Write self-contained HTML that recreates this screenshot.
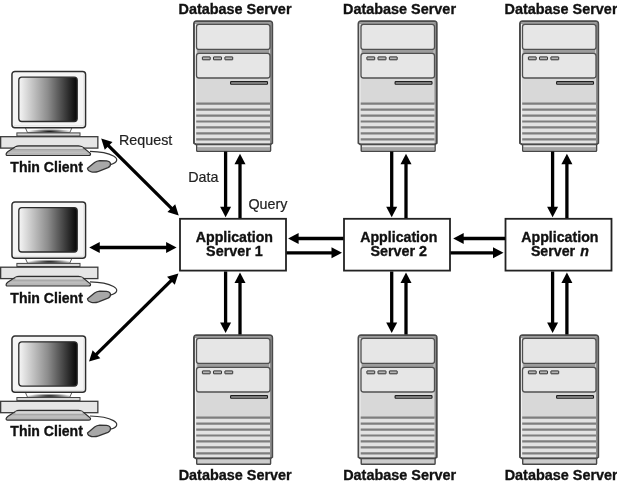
<!DOCTYPE html>
<html><head><meta charset="utf-8"><style>
html,body{margin:0;padding:0;background:#fff;width:617px;height:482px;overflow:hidden}
svg{display:block;filter:blur(0.35px)}
text{will-change:transform}
</style></head><body>
<svg width="617" height="482" viewBox="0 0 617 482"><defs>
<linearGradient id="scr" x1="0" y1="0" x2="1" y2="0">
<stop offset="0" stop-color="#f6f6f6"/><stop offset="0.5" stop-color="#8c8c8c"/><stop offset="1" stop-color="#050505"/>
</linearGradient>
<radialGradient id="neck" cx="0.52" cy="0.75" r="0.55">
<stop offset="0" stop-color="#111"/><stop offset="0.45" stop-color="#8a8a8a"/><stop offset="0.85" stop-color="#fafafa"/><stop offset="1" stop-color="#fff"/>
</radialGradient>
</defs>
<g transform="translate(193,20)"><rect x="3.7" y="122.8" width="73.9" height="8.4" rx="0.8" fill="#bcbcbc" stroke="#484848" stroke-width="1.4"/><rect x="4.5" y="124.2" width="72.3" height="2.8" fill="#e6e6e6"/><rect x="4.5" y="127.4" width="72.3" height="3.1" fill="#a6a6a6"/><path d="M0.95,123 L0.95,4 Q0.95,1.3 3.6,1.3 L76.6,1.3 Q79.25,1.3 79.25,4 L79.25,123 L77.5,124.2 L2.7,124.2 Z" fill="#d8d8d8" stroke="#4a4a4a" stroke-width="1.9"/><rect x="1.9" y="2.2" width="76.4" height="2" fill="#9a9a9a"/><line x1="77.7" y1="3" x2="77.7" y2="123" stroke="#8c8c8c" stroke-width="1.4"/><line x1="2.5" y1="4" x2="2.5" y2="123" stroke="#f2f2f2" stroke-width="1"/><rect x="3" y="83.7" width="74" height="39.5" fill="#e2e2e2"/><rect x="4.2" y="30" width="72" height="3.2" fill="#9c9c9c"/><rect x="3.5" y="4.4" width="73.5" height="25" rx="2.5" fill="#e6e6e6" stroke="#505050" stroke-width="1.3"/><rect x="3.5" y="33.4" width="73.5" height="24.6" rx="2.5" fill="#e6e6e6" stroke="#505050" stroke-width="1.3"/><rect x="9.4" y="36.9" width="7.8" height="2.9" rx="0.3" fill="#b4b4b4" stroke="#333" stroke-width="1"/><rect x="20.5" y="36.9" width="8.0" height="2.9" rx="0.3" fill="#b4b4b4" stroke="#333" stroke-width="1"/><rect x="31.9" y="36.9" width="7.8" height="2.9" rx="0.3" fill="#b4b4b4" stroke="#333" stroke-width="1"/><rect x="37.6" y="61.6" width="36.9" height="2.7" rx="0.6" fill="#9a9a9a" stroke="#1e1e1e" stroke-width="1.1"/><line x1="3.2" y1="83.70" x2="77" y2="83.70" stroke="#7e7e7e" stroke-width="2.2"/><line x1="3.2" y1="89.63" x2="77" y2="89.63" stroke="#7e7e7e" stroke-width="2.2"/><line x1="3.2" y1="95.56" x2="77" y2="95.56" stroke="#7e7e7e" stroke-width="2.2"/><line x1="3.2" y1="101.49" x2="77" y2="101.49" stroke="#7e7e7e" stroke-width="2.2"/><line x1="3.2" y1="107.42" x2="77" y2="107.42" stroke="#7e7e7e" stroke-width="2.2"/><line x1="3.2" y1="113.35" x2="77" y2="113.35" stroke="#7e7e7e" stroke-width="2.2"/><line x1="3.2" y1="119.28" x2="77" y2="119.28" stroke="#7e7e7e" stroke-width="2.2"/></g>
<g transform="translate(193,334)"><rect x="3.7" y="122.8" width="73.9" height="7.5" rx="0.8" fill="#cdcdcd" stroke="#484848" stroke-width="1.4"/><path d="M0.95,123 L0.95,4 Q0.95,1.3 3.6,1.3 L76.6,1.3 Q79.25,1.3 79.25,4 L79.25,123 L77.5,124.2 L2.7,124.2 Z" fill="#d8d8d8" stroke="#4a4a4a" stroke-width="1.9"/><rect x="1.9" y="2.2" width="76.4" height="2" fill="#9a9a9a"/><line x1="77.7" y1="3" x2="77.7" y2="123" stroke="#8c8c8c" stroke-width="1.4"/><line x1="2.5" y1="4" x2="2.5" y2="123" stroke="#f2f2f2" stroke-width="1"/><rect x="3" y="83.7" width="74" height="39.5" fill="#e2e2e2"/><rect x="4.2" y="30" width="72" height="3.2" fill="#9c9c9c"/><rect x="3.5" y="4.4" width="73.5" height="25" rx="2.5" fill="#e6e6e6" stroke="#505050" stroke-width="1.3"/><rect x="3.5" y="33.4" width="73.5" height="24.6" rx="2.5" fill="#e6e6e6" stroke="#505050" stroke-width="1.3"/><rect x="9.4" y="36.9" width="7.8" height="2.9" rx="0.3" fill="#b4b4b4" stroke="#333" stroke-width="1"/><rect x="20.5" y="36.9" width="8.0" height="2.9" rx="0.3" fill="#b4b4b4" stroke="#333" stroke-width="1"/><rect x="31.9" y="36.9" width="7.8" height="2.9" rx="0.3" fill="#b4b4b4" stroke="#333" stroke-width="1"/><rect x="37.6" y="61.6" width="36.9" height="2.7" rx="0.6" fill="#9a9a9a" stroke="#1e1e1e" stroke-width="1.1"/><line x1="3.2" y1="83.70" x2="77" y2="83.70" stroke="#7e7e7e" stroke-width="2.2"/><line x1="3.2" y1="89.63" x2="77" y2="89.63" stroke="#7e7e7e" stroke-width="2.2"/><line x1="3.2" y1="95.56" x2="77" y2="95.56" stroke="#7e7e7e" stroke-width="2.2"/><line x1="3.2" y1="101.49" x2="77" y2="101.49" stroke="#7e7e7e" stroke-width="2.2"/><line x1="3.2" y1="107.42" x2="77" y2="107.42" stroke="#7e7e7e" stroke-width="2.2"/><line x1="3.2" y1="113.35" x2="77" y2="113.35" stroke="#7e7e7e" stroke-width="2.2"/><line x1="3.2" y1="119.28" x2="77" y2="119.28" stroke="#7e7e7e" stroke-width="2.2"/></g>
<g transform="translate(357.5,20)"><rect x="3.7" y="122.8" width="73.9" height="8.4" rx="0.8" fill="#bcbcbc" stroke="#484848" stroke-width="1.4"/><rect x="4.5" y="124.2" width="72.3" height="2.8" fill="#e6e6e6"/><rect x="4.5" y="127.4" width="72.3" height="3.1" fill="#a6a6a6"/><path d="M0.95,123 L0.95,4 Q0.95,1.3 3.6,1.3 L76.6,1.3 Q79.25,1.3 79.25,4 L79.25,123 L77.5,124.2 L2.7,124.2 Z" fill="#d8d8d8" stroke="#4a4a4a" stroke-width="1.9"/><rect x="1.9" y="2.2" width="76.4" height="2" fill="#9a9a9a"/><line x1="77.7" y1="3" x2="77.7" y2="123" stroke="#8c8c8c" stroke-width="1.4"/><line x1="2.5" y1="4" x2="2.5" y2="123" stroke="#f2f2f2" stroke-width="1"/><rect x="3" y="83.7" width="74" height="39.5" fill="#e2e2e2"/><rect x="4.2" y="30" width="72" height="3.2" fill="#9c9c9c"/><rect x="3.5" y="4.4" width="73.5" height="25" rx="2.5" fill="#e6e6e6" stroke="#505050" stroke-width="1.3"/><rect x="3.5" y="33.4" width="73.5" height="24.6" rx="2.5" fill="#e6e6e6" stroke="#505050" stroke-width="1.3"/><rect x="9.4" y="36.9" width="7.8" height="2.9" rx="0.3" fill="#b4b4b4" stroke="#333" stroke-width="1"/><rect x="20.5" y="36.9" width="8.0" height="2.9" rx="0.3" fill="#b4b4b4" stroke="#333" stroke-width="1"/><rect x="31.9" y="36.9" width="7.8" height="2.9" rx="0.3" fill="#b4b4b4" stroke="#333" stroke-width="1"/><rect x="37.6" y="61.6" width="36.9" height="2.7" rx="0.6" fill="#9a9a9a" stroke="#1e1e1e" stroke-width="1.1"/><line x1="3.2" y1="83.70" x2="77" y2="83.70" stroke="#7e7e7e" stroke-width="2.2"/><line x1="3.2" y1="89.63" x2="77" y2="89.63" stroke="#7e7e7e" stroke-width="2.2"/><line x1="3.2" y1="95.56" x2="77" y2="95.56" stroke="#7e7e7e" stroke-width="2.2"/><line x1="3.2" y1="101.49" x2="77" y2="101.49" stroke="#7e7e7e" stroke-width="2.2"/><line x1="3.2" y1="107.42" x2="77" y2="107.42" stroke="#7e7e7e" stroke-width="2.2"/><line x1="3.2" y1="113.35" x2="77" y2="113.35" stroke="#7e7e7e" stroke-width="2.2"/><line x1="3.2" y1="119.28" x2="77" y2="119.28" stroke="#7e7e7e" stroke-width="2.2"/></g>
<g transform="translate(357.5,334)"><rect x="3.7" y="122.8" width="73.9" height="7.5" rx="0.8" fill="#cdcdcd" stroke="#484848" stroke-width="1.4"/><path d="M0.95,123 L0.95,4 Q0.95,1.3 3.6,1.3 L76.6,1.3 Q79.25,1.3 79.25,4 L79.25,123 L77.5,124.2 L2.7,124.2 Z" fill="#d8d8d8" stroke="#4a4a4a" stroke-width="1.9"/><rect x="1.9" y="2.2" width="76.4" height="2" fill="#9a9a9a"/><line x1="77.7" y1="3" x2="77.7" y2="123" stroke="#8c8c8c" stroke-width="1.4"/><line x1="2.5" y1="4" x2="2.5" y2="123" stroke="#f2f2f2" stroke-width="1"/><rect x="3" y="83.7" width="74" height="39.5" fill="#e2e2e2"/><rect x="4.2" y="30" width="72" height="3.2" fill="#9c9c9c"/><rect x="3.5" y="4.4" width="73.5" height="25" rx="2.5" fill="#e6e6e6" stroke="#505050" stroke-width="1.3"/><rect x="3.5" y="33.4" width="73.5" height="24.6" rx="2.5" fill="#e6e6e6" stroke="#505050" stroke-width="1.3"/><rect x="9.4" y="36.9" width="7.8" height="2.9" rx="0.3" fill="#b4b4b4" stroke="#333" stroke-width="1"/><rect x="20.5" y="36.9" width="8.0" height="2.9" rx="0.3" fill="#b4b4b4" stroke="#333" stroke-width="1"/><rect x="31.9" y="36.9" width="7.8" height="2.9" rx="0.3" fill="#b4b4b4" stroke="#333" stroke-width="1"/><rect x="37.6" y="61.6" width="36.9" height="2.7" rx="0.6" fill="#9a9a9a" stroke="#1e1e1e" stroke-width="1.1"/><line x1="3.2" y1="83.70" x2="77" y2="83.70" stroke="#7e7e7e" stroke-width="2.2"/><line x1="3.2" y1="89.63" x2="77" y2="89.63" stroke="#7e7e7e" stroke-width="2.2"/><line x1="3.2" y1="95.56" x2="77" y2="95.56" stroke="#7e7e7e" stroke-width="2.2"/><line x1="3.2" y1="101.49" x2="77" y2="101.49" stroke="#7e7e7e" stroke-width="2.2"/><line x1="3.2" y1="107.42" x2="77" y2="107.42" stroke="#7e7e7e" stroke-width="2.2"/><line x1="3.2" y1="113.35" x2="77" y2="113.35" stroke="#7e7e7e" stroke-width="2.2"/><line x1="3.2" y1="119.28" x2="77" y2="119.28" stroke="#7e7e7e" stroke-width="2.2"/></g>
<g transform="translate(519,20)"><rect x="3.7" y="122.8" width="73.9" height="8.4" rx="0.8" fill="#bcbcbc" stroke="#484848" stroke-width="1.4"/><rect x="4.5" y="124.2" width="72.3" height="2.8" fill="#e6e6e6"/><rect x="4.5" y="127.4" width="72.3" height="3.1" fill="#a6a6a6"/><path d="M0.95,123 L0.95,4 Q0.95,1.3 3.6,1.3 L76.6,1.3 Q79.25,1.3 79.25,4 L79.25,123 L77.5,124.2 L2.7,124.2 Z" fill="#d8d8d8" stroke="#4a4a4a" stroke-width="1.9"/><rect x="1.9" y="2.2" width="76.4" height="2" fill="#9a9a9a"/><line x1="77.7" y1="3" x2="77.7" y2="123" stroke="#8c8c8c" stroke-width="1.4"/><line x1="2.5" y1="4" x2="2.5" y2="123" stroke="#f2f2f2" stroke-width="1"/><rect x="3" y="83.7" width="74" height="39.5" fill="#e2e2e2"/><rect x="4.2" y="30" width="72" height="3.2" fill="#9c9c9c"/><rect x="3.5" y="4.4" width="73.5" height="25" rx="2.5" fill="#e6e6e6" stroke="#505050" stroke-width="1.3"/><rect x="3.5" y="33.4" width="73.5" height="24.6" rx="2.5" fill="#e6e6e6" stroke="#505050" stroke-width="1.3"/><rect x="9.4" y="36.9" width="7.8" height="2.9" rx="0.3" fill="#b4b4b4" stroke="#333" stroke-width="1"/><rect x="20.5" y="36.9" width="8.0" height="2.9" rx="0.3" fill="#b4b4b4" stroke="#333" stroke-width="1"/><rect x="31.9" y="36.9" width="7.8" height="2.9" rx="0.3" fill="#b4b4b4" stroke="#333" stroke-width="1"/><rect x="37.6" y="61.6" width="36.9" height="2.7" rx="0.6" fill="#9a9a9a" stroke="#1e1e1e" stroke-width="1.1"/><line x1="3.2" y1="83.70" x2="77" y2="83.70" stroke="#7e7e7e" stroke-width="2.2"/><line x1="3.2" y1="89.63" x2="77" y2="89.63" stroke="#7e7e7e" stroke-width="2.2"/><line x1="3.2" y1="95.56" x2="77" y2="95.56" stroke="#7e7e7e" stroke-width="2.2"/><line x1="3.2" y1="101.49" x2="77" y2="101.49" stroke="#7e7e7e" stroke-width="2.2"/><line x1="3.2" y1="107.42" x2="77" y2="107.42" stroke="#7e7e7e" stroke-width="2.2"/><line x1="3.2" y1="113.35" x2="77" y2="113.35" stroke="#7e7e7e" stroke-width="2.2"/><line x1="3.2" y1="119.28" x2="77" y2="119.28" stroke="#7e7e7e" stroke-width="2.2"/></g>
<g transform="translate(519,334)"><rect x="3.7" y="122.8" width="73.9" height="7.5" rx="0.8" fill="#cdcdcd" stroke="#484848" stroke-width="1.4"/><path d="M0.95,123 L0.95,4 Q0.95,1.3 3.6,1.3 L76.6,1.3 Q79.25,1.3 79.25,4 L79.25,123 L77.5,124.2 L2.7,124.2 Z" fill="#d8d8d8" stroke="#4a4a4a" stroke-width="1.9"/><rect x="1.9" y="2.2" width="76.4" height="2" fill="#9a9a9a"/><line x1="77.7" y1="3" x2="77.7" y2="123" stroke="#8c8c8c" stroke-width="1.4"/><line x1="2.5" y1="4" x2="2.5" y2="123" stroke="#f2f2f2" stroke-width="1"/><rect x="3" y="83.7" width="74" height="39.5" fill="#e2e2e2"/><rect x="4.2" y="30" width="72" height="3.2" fill="#9c9c9c"/><rect x="3.5" y="4.4" width="73.5" height="25" rx="2.5" fill="#e6e6e6" stroke="#505050" stroke-width="1.3"/><rect x="3.5" y="33.4" width="73.5" height="24.6" rx="2.5" fill="#e6e6e6" stroke="#505050" stroke-width="1.3"/><rect x="9.4" y="36.9" width="7.8" height="2.9" rx="0.3" fill="#b4b4b4" stroke="#333" stroke-width="1"/><rect x="20.5" y="36.9" width="8.0" height="2.9" rx="0.3" fill="#b4b4b4" stroke="#333" stroke-width="1"/><rect x="31.9" y="36.9" width="7.8" height="2.9" rx="0.3" fill="#b4b4b4" stroke="#333" stroke-width="1"/><rect x="37.6" y="61.6" width="36.9" height="2.7" rx="0.6" fill="#9a9a9a" stroke="#1e1e1e" stroke-width="1.1"/><line x1="3.2" y1="83.70" x2="77" y2="83.70" stroke="#7e7e7e" stroke-width="2.2"/><line x1="3.2" y1="89.63" x2="77" y2="89.63" stroke="#7e7e7e" stroke-width="2.2"/><line x1="3.2" y1="95.56" x2="77" y2="95.56" stroke="#7e7e7e" stroke-width="2.2"/><line x1="3.2" y1="101.49" x2="77" y2="101.49" stroke="#7e7e7e" stroke-width="2.2"/><line x1="3.2" y1="107.42" x2="77" y2="107.42" stroke="#7e7e7e" stroke-width="2.2"/><line x1="3.2" y1="113.35" x2="77" y2="113.35" stroke="#7e7e7e" stroke-width="2.2"/><line x1="3.2" y1="119.28" x2="77" y2="119.28" stroke="#7e7e7e" stroke-width="2.2"/></g>
<g transform="translate(11,71)"><path d="M79,80.4 C88,80.6 97,82 102.5,85 C107,87.5 107.5,91.5 99.4,93.6" fill="none" stroke="#333" stroke-width="1.2"/><path d="M14.3,56.6 L61,56.6 L58.8,61.6 L16.5,61.6 Z" fill="url(#neck)" stroke="#333" stroke-width="0.8"/><rect x="5.9" y="61.9" width="63.1" height="3.1" fill="#d8d8d8" stroke="#444" stroke-width="1"/><rect x="-10.35" y="65.7" width="97.2" height="11.4" fill="#e6e6e6" stroke="#3a3a3a" stroke-width="1.3"/><path d="M8,74.8 L67.5,74.8 Q70,74.9 71.5,76 L78.5,81.6 Q80,82.7 79.5,83.6 Q79,84.5 77.5,84.5 L-3.5,84.5 Q-5.2,84.5 -4.8,82.8 Q-4.4,81.6 -3,80.6 L4.5,75.8 Q6,74.8 8,74.8 Z" fill="#b6b6b6" stroke="#2e2e2e" stroke-width="1.2" stroke-linejoin="round"/><path d="M4.5,77.1 L71.5,77.1" stroke="#d6d6d6" stroke-width="2.4"/><path d="M1.5,78.6 L73,78.6" stroke="#9a9a9a" stroke-width="0.7"/><path d="M-1,81.3 L75.5,81.3" stroke="#c4c4c4" stroke-width="0.9"/><rect x="0.95" y="0.45" width="73.6" height="56.3" rx="3" fill="#f5f5f5" stroke="#2e2e2e" stroke-width="1.5"/><path d="M72.9,3 L72.9,54.8 L3,54.8" fill="none" stroke="#e2e2e2" stroke-width="1"/><rect x="7.8" y="6.2" width="58.4" height="44.3" rx="3" fill="url(#scr)" stroke="#2a2a2a" stroke-width="1.3"/><path d="M76.5,97.3 L83.6,91.5 Q85.6,89.9 88.8,89.6 L95.5,89.8 Q99.3,90.2 99.5,93 Q99.6,95.5 97,96.7 L87.5,100.3 Q84,101.5 80.5,100.9 Q76.8,100.1 76.5,97.3 Z" fill="#a8a8a8" stroke="#333" stroke-width="1.3" stroke-linejoin="round"/></g>
<g transform="translate(11,201.5)"><path d="M79,80.4 C88,80.6 97,82 102.5,85 C107,87.5 107.5,91.5 99.4,93.6" fill="none" stroke="#333" stroke-width="1.2"/><path d="M14.3,56.6 L61,56.6 L58.8,61.6 L16.5,61.6 Z" fill="url(#neck)" stroke="#333" stroke-width="0.8"/><rect x="5.9" y="61.9" width="63.1" height="3.1" fill="#d8d8d8" stroke="#444" stroke-width="1"/><rect x="-10.35" y="65.7" width="97.2" height="11.4" fill="#e6e6e6" stroke="#3a3a3a" stroke-width="1.3"/><path d="M8,74.8 L67.5,74.8 Q70,74.9 71.5,76 L78.5,81.6 Q80,82.7 79.5,83.6 Q79,84.5 77.5,84.5 L-3.5,84.5 Q-5.2,84.5 -4.8,82.8 Q-4.4,81.6 -3,80.6 L4.5,75.8 Q6,74.8 8,74.8 Z" fill="#b6b6b6" stroke="#2e2e2e" stroke-width="1.2" stroke-linejoin="round"/><path d="M4.5,77.1 L71.5,77.1" stroke="#d6d6d6" stroke-width="2.4"/><path d="M1.5,78.6 L73,78.6" stroke="#9a9a9a" stroke-width="0.7"/><path d="M-1,81.3 L75.5,81.3" stroke="#c4c4c4" stroke-width="0.9"/><rect x="0.95" y="0.45" width="73.6" height="56.3" rx="3" fill="#f5f5f5" stroke="#2e2e2e" stroke-width="1.5"/><path d="M72.9,3 L72.9,54.8 L3,54.8" fill="none" stroke="#e2e2e2" stroke-width="1"/><rect x="7.8" y="6.2" width="58.4" height="44.3" rx="3" fill="url(#scr)" stroke="#2a2a2a" stroke-width="1.3"/><path d="M76.5,97.3 L83.6,91.5 Q85.6,89.9 88.8,89.6 L95.5,89.8 Q99.3,90.2 99.5,93 Q99.6,95.5 97,96.7 L87.5,100.3 Q84,101.5 80.5,100.9 Q76.8,100.1 76.5,97.3 Z" fill="#a8a8a8" stroke="#333" stroke-width="1.3" stroke-linejoin="round"/></g>
<g transform="translate(11,335.6)"><path d="M79,80.4 C88,80.6 97,82 102.5,85 C107,87.5 107.5,91.5 99.4,93.6" fill="none" stroke="#333" stroke-width="1.2"/><path d="M14.3,56.6 L61,56.6 L58.8,61.6 L16.5,61.6 Z" fill="url(#neck)" stroke="#333" stroke-width="0.8"/><rect x="5.9" y="61.9" width="63.1" height="3.1" fill="#d8d8d8" stroke="#444" stroke-width="1"/><rect x="-10.35" y="65.7" width="97.2" height="11.4" fill="#e6e6e6" stroke="#3a3a3a" stroke-width="1.3"/><path d="M8,74.8 L67.5,74.8 Q70,74.9 71.5,76 L78.5,81.6 Q80,82.7 79.5,83.6 Q79,84.5 77.5,84.5 L-3.5,84.5 Q-5.2,84.5 -4.8,82.8 Q-4.4,81.6 -3,80.6 L4.5,75.8 Q6,74.8 8,74.8 Z" fill="#b6b6b6" stroke="#2e2e2e" stroke-width="1.2" stroke-linejoin="round"/><path d="M4.5,77.1 L71.5,77.1" stroke="#d6d6d6" stroke-width="2.4"/><path d="M1.5,78.6 L73,78.6" stroke="#9a9a9a" stroke-width="0.7"/><path d="M-1,81.3 L75.5,81.3" stroke="#c4c4c4" stroke-width="0.9"/><rect x="0.95" y="0.45" width="73.6" height="56.3" rx="3" fill="#f5f5f5" stroke="#2e2e2e" stroke-width="1.5"/><path d="M72.9,3 L72.9,54.8 L3,54.8" fill="none" stroke="#e2e2e2" stroke-width="1"/><rect x="7.8" y="6.2" width="58.4" height="44.3" rx="3" fill="url(#scr)" stroke="#2a2a2a" stroke-width="1.3"/><path d="M76.5,97.3 L83.6,91.5 Q85.6,89.9 88.8,89.6 L95.5,89.8 Q99.3,90.2 99.5,93 Q99.6,95.5 97,96.7 L87.5,100.3 Q84,101.5 80.5,100.9 Q76.8,100.1 76.5,97.3 Z" fill="#a8a8a8" stroke="#333" stroke-width="1.3" stroke-linejoin="round"/></g>
<rect x="180" y="218.8" width="106" height="51.8" fill="#fff" stroke="#222" stroke-width="1.8"/>
<rect x="344" y="218.8" width="106" height="51.8" fill="#fff" stroke="#222" stroke-width="1.8"/>
<rect x="505.5" y="218.8" width="106" height="51.8" fill="#fff" stroke="#222" stroke-width="1.8"/>
<line x1="225.60" y1="151.50" x2="225.60" y2="208.80" stroke="#000" stroke-width="3.3"/><path d="M225.60,217.20 L220.10,206.70 L231.10,206.70 Z" fill="#000"/>
<line x1="240.00" y1="218.00" x2="240.00" y2="162.10" stroke="#000" stroke-width="3.3"/><path d="M240.00,153.70 L245.50,164.20 L234.50,164.20 Z" fill="#000"/>
<line x1="225.60" y1="271.50" x2="225.60" y2="324.60" stroke="#000" stroke-width="3.3"/><path d="M225.60,333.00 L220.10,322.50 L231.10,322.50 Z" fill="#000"/>
<line x1="240.00" y1="334.50" x2="240.00" y2="280.90" stroke="#000" stroke-width="3.3"/><path d="M240.00,272.50 L245.50,283.00 L234.50,283.00 Z" fill="#000"/>
<line x1="391.70" y1="151.50" x2="391.70" y2="208.80" stroke="#000" stroke-width="3.3"/><path d="M391.70,217.20 L386.20,206.70 L397.20,206.70 Z" fill="#000"/>
<line x1="406.00" y1="218.00" x2="406.00" y2="162.10" stroke="#000" stroke-width="3.3"/><path d="M406.00,153.70 L411.50,164.20 L400.50,164.20 Z" fill="#000"/>
<line x1="391.70" y1="271.50" x2="391.70" y2="324.60" stroke="#000" stroke-width="3.3"/><path d="M391.70,333.00 L386.20,322.50 L397.20,322.50 Z" fill="#000"/>
<line x1="406.00" y1="334.50" x2="406.00" y2="280.90" stroke="#000" stroke-width="3.3"/><path d="M406.00,272.50 L411.50,283.00 L400.50,283.00 Z" fill="#000"/>
<line x1="552.60" y1="151.50" x2="552.60" y2="208.80" stroke="#000" stroke-width="3.3"/><path d="M552.60,217.20 L547.10,206.70 L558.10,206.70 Z" fill="#000"/>
<line x1="566.90" y1="218.00" x2="566.90" y2="162.10" stroke="#000" stroke-width="3.3"/><path d="M566.90,153.70 L572.40,164.20 L561.40,164.20 Z" fill="#000"/>
<line x1="552.60" y1="271.50" x2="552.60" y2="324.60" stroke="#000" stroke-width="3.3"/><path d="M552.60,333.00 L547.10,322.50 L558.10,322.50 Z" fill="#000"/>
<line x1="566.90" y1="334.50" x2="566.90" y2="280.90" stroke="#000" stroke-width="3.3"/><path d="M566.90,272.50 L572.40,283.00 L561.40,283.00 Z" fill="#000"/>
<line x1="343.50" y1="238.50" x2="296.50" y2="238.50" stroke="#000" stroke-width="3.3"/><path d="M288.10,238.50 L298.60,233.00 L298.60,244.00 Z" fill="#000"/>
<line x1="286.50" y1="252.80" x2="333.60" y2="252.80" stroke="#000" stroke-width="3.3"/><path d="M342.00,252.80 L331.50,258.30 L331.50,247.30 Z" fill="#000"/>
<line x1="505.00" y1="238.50" x2="461.60" y2="238.50" stroke="#000" stroke-width="3.3"/><path d="M453.20,238.50 L463.70,233.00 L463.70,244.00 Z" fill="#000"/>
<line x1="450.50" y1="252.80" x2="495.10" y2="252.80" stroke="#000" stroke-width="3.3"/><path d="M503.50,252.80 L493.00,258.30 L493.00,247.30 Z" fill="#000"/>
<line x1="107.15" y1="144.33" x2="172.80" y2="209.67" stroke="#000" stroke-width="3.3"/><path d="M178.75,215.60 L167.43,212.09 L175.19,204.29 Z" fill="#000"/><path d="M101.20,138.40 L104.76,149.71 L112.52,141.91 Z" fill="#000"/>
<line x1="97.65" y1="247.50" x2="168.20" y2="247.50" stroke="#000" stroke-width="3.3"/><path d="M176.60,247.50 L166.10,253.00 L166.10,242.00 Z" fill="#000"/><path d="M89.25,247.50 L99.75,253.00 L99.75,242.00 Z" fill="#000"/>
<line x1="94.98" y1="355.70" x2="172.42" y2="279.30" stroke="#000" stroke-width="3.3"/><path d="M178.40,273.40 L174.79,284.69 L167.06,276.86 Z" fill="#000"/><path d="M89.00,361.60 L100.34,358.14 L92.61,350.31 Z" fill="#000"/>
<text x="235.0" y="13.7" text-anchor="middle" textLength="113" lengthAdjust="spacingAndGlyphs" font-family="Liberation Sans" font-weight="bold" font-size="14.8" fill="#111" stroke="#111" stroke-width="0.35">Database Server</text>
<text x="235.2" y="480.4" text-anchor="middle" textLength="113" lengthAdjust="spacingAndGlyphs" font-family="Liberation Sans" font-weight="bold" font-size="14.8" fill="#111" stroke="#111" stroke-width="0.35">Database Server</text>
<text x="399.5" y="13.7" text-anchor="middle" textLength="113" lengthAdjust="spacingAndGlyphs" font-family="Liberation Sans" font-weight="bold" font-size="14.8" fill="#111" stroke="#111" stroke-width="0.35">Database Server</text>
<text x="399.70000000000005" y="480.4" text-anchor="middle" textLength="113" lengthAdjust="spacingAndGlyphs" font-family="Liberation Sans" font-weight="bold" font-size="14.8" fill="#111" stroke="#111" stroke-width="0.35">Database Server</text>
<text x="561.0" y="13.7" text-anchor="middle" textLength="113" lengthAdjust="spacingAndGlyphs" font-family="Liberation Sans" font-weight="bold" font-size="14.8" fill="#111" stroke="#111" stroke-width="0.35">Database Server</text>
<text x="561.2" y="480.4" text-anchor="middle" textLength="113" lengthAdjust="spacingAndGlyphs" font-family="Liberation Sans" font-weight="bold" font-size="14.8" fill="#111" stroke="#111" stroke-width="0.35">Database Server</text>
<text x="10.3" y="171.5" textLength="72.6" lengthAdjust="spacingAndGlyphs" font-family="Liberation Sans" font-weight="bold" font-size="14.8" fill="#111" stroke="#111" stroke-width="0.35">Thin Client</text>
<text x="10.3" y="302.6" textLength="72.6" lengthAdjust="spacingAndGlyphs" font-family="Liberation Sans" font-weight="bold" font-size="14.8" fill="#111" stroke="#111" stroke-width="0.35">Thin Client</text>
<text x="10.3" y="435.8" textLength="72.6" lengthAdjust="spacingAndGlyphs" font-family="Liberation Sans" font-weight="bold" font-size="14.8" fill="#111" stroke="#111" stroke-width="0.35">Thin Client</text>
<text x="119" y="145.3" font-family="Liberation Sans" font-size="14.3" fill="#222" stroke="#222" stroke-width="0.2">Request</text>
<text x="188.2" y="181.7" font-family="Liberation Sans" font-size="14.3" fill="#222" stroke="#222" stroke-width="0.2">Data</text>
<text x="248.5" y="209.3" font-family="Liberation Sans" font-size="14.3" fill="#222" stroke="#222" stroke-width="0.2">Query</text>
<text x="234.4" y="242" text-anchor="middle" textLength="77.2" lengthAdjust="spacingAndGlyphs" font-family="Liberation Sans" font-weight="bold" font-size="14.8" fill="#111" stroke="#111" stroke-width="0.35">Application</text>
<text x="234.4" y="255.8" text-anchor="middle" textLength="56.6" lengthAdjust="spacingAndGlyphs" font-family="Liberation Sans" font-weight="bold" font-size="14.8" fill="#111" stroke="#111" stroke-width="0.35">Server 1</text>
<text x="398.8" y="242" text-anchor="middle" textLength="77.2" lengthAdjust="spacingAndGlyphs" font-family="Liberation Sans" font-weight="bold" font-size="14.8" fill="#111" stroke="#111" stroke-width="0.35">Application</text>
<text x="398.8" y="255.8" text-anchor="middle" textLength="56.6" lengthAdjust="spacingAndGlyphs" font-family="Liberation Sans" font-weight="bold" font-size="14.8" fill="#111" stroke="#111" stroke-width="0.35">Server 2</text>
<text x="559.9" y="242" text-anchor="middle" textLength="77.2" lengthAdjust="spacingAndGlyphs" font-family="Liberation Sans" font-weight="bold" font-size="14.8" fill="#111" stroke="#111" stroke-width="0.35">Application</text>
<text x="559.9" y="255.8" text-anchor="middle" textLength="58" lengthAdjust="spacingAndGlyphs" font-family="Liberation Sans" font-weight="bold" font-size="14.8" fill="#111" stroke="#111" stroke-width="0.35">Server <tspan font-style="italic" dx="1.2">n</tspan></text></svg>
</body></html>
